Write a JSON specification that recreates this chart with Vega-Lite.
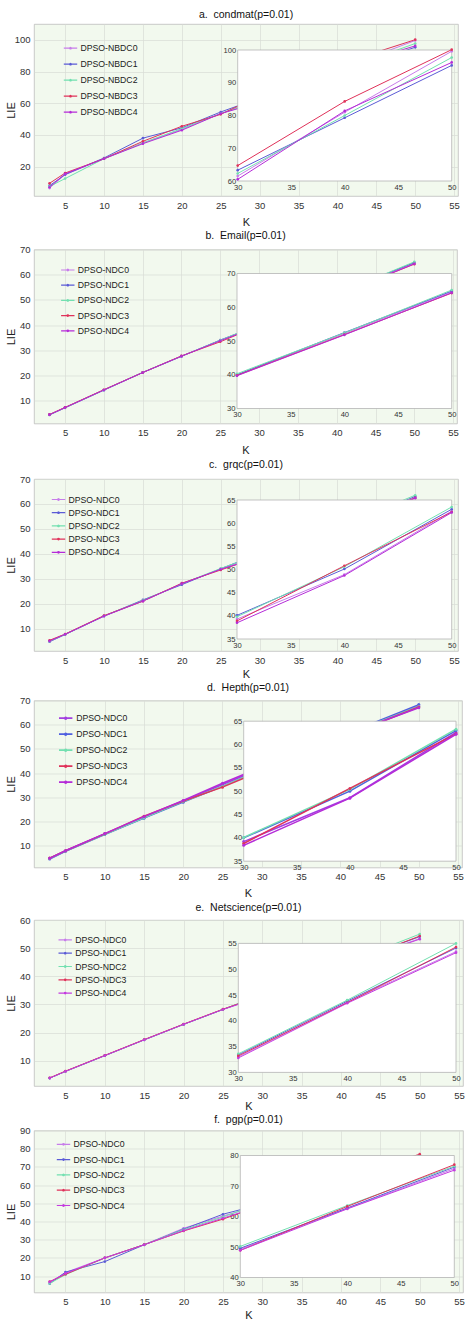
{
"$schema": "https://vega.github.io/schema/vega-lite/v6.json",
"padding": {"left": 4, "top": 9, "right": 2, "bottom": 0},
"spacing": 2.5,
"datasets": {
"aMain": [
{"K":3,"LIE":6.5,"s":"DPSO-NBDC0"},{"K":5,"LIE":15,"s":"DPSO-NBDC0"},{"K":10,"LIE":25,"s":"DPSO-NBDC0"},{"K":15,"LIE":35,"s":"DPSO-NBDC0"},{"K":20,"LIE":43.5,"s":"DPSO-NBDC0"},{"K":25,"LIE":53.5,"s":"DPSO-NBDC0"},{"K":30,"LIE":61.5,"s":"DPSO-NBDC0"},{"K":40,"LIE":81,"s":"DPSO-NBDC0"},{"K":50,"LIE":99.6,"s":"DPSO-NBDC0"},
{"K":3,"LIE":8,"s":"DPSO-NBDC1"},{"K":5,"LIE":15,"s":"DPSO-NBDC1"},{"K":10,"LIE":25.5,"s":"DPSO-NBDC1"},{"K":15,"LIE":38,"s":"DPSO-NBDC1"},{"K":20,"LIE":44.5,"s":"DPSO-NBDC1"},{"K":25,"LIE":54.5,"s":"DPSO-NBDC1"},{"K":30,"LIE":63.3,"s":"DPSO-NBDC1"},{"K":40,"LIE":79.3,"s":"DPSO-NBDC1"},{"K":50,"LIE":95.3,"s":"DPSO-NBDC1"},
{"K":3,"LIE":7.5,"s":"DPSO-NBDC2"},{"K":5,"LIE":12.5,"s":"DPSO-NBDC2"},{"K":10,"LIE":25,"s":"DPSO-NBDC2"},{"K":15,"LIE":35,"s":"DPSO-NBDC2"},{"K":20,"LIE":44,"s":"DPSO-NBDC2"},{"K":25,"LIE":53.5,"s":"DPSO-NBDC2"},{"K":30,"LIE":62.3,"s":"DPSO-NBDC2"},{"K":40,"LIE":80,"s":"DPSO-NBDC2"},{"K":50,"LIE":97.7,"s":"DPSO-NBDC2"},
{"K":3,"LIE":9.5,"s":"DPSO-NBDC3"},{"K":5,"LIE":16,"s":"DPSO-NBDC3"},{"K":10,"LIE":25,"s":"DPSO-NBDC3"},{"K":15,"LIE":36,"s":"DPSO-NBDC3"},{"K":20,"LIE":45.5,"s":"DPSO-NBDC3"},{"K":25,"LIE":53,"s":"DPSO-NBDC3"},{"K":30,"LIE":64.7,"s":"DPSO-NBDC3"},{"K":40,"LIE":84.3,"s":"DPSO-NBDC3"},{"K":50,"LIE":100.1,"s":"DPSO-NBDC3"},
{"K":3,"LIE":7,"s":"DPSO-NBDC4"},{"K":5,"LIE":15.5,"s":"DPSO-NBDC4"},{"K":10,"LIE":25,"s":"DPSO-NBDC4"},{"K":15,"LIE":34.5,"s":"DPSO-NBDC4"},{"K":20,"LIE":43,"s":"DPSO-NBDC4"},{"K":25,"LIE":53.5,"s":"DPSO-NBDC4"},{"K":30,"LIE":60.5,"s":"DPSO-NBDC4"},{"K":40,"LIE":81.4,"s":"DPSO-NBDC4"},{"K":50,"LIE":96.2,"s":"DPSO-NBDC4"}
],
"bMain": [
{"K":3,"LIE":4.5,"s":"DPSO-NDC0"},{"K":5,"LIE":7.3,"s":"DPSO-NDC0"},{"K":10,"LIE":14.3,"s":"DPSO-NDC0"},{"K":15,"LIE":21.2,"s":"DPSO-NDC0"},{"K":20,"LIE":27.7,"s":"DPSO-NDC0"},{"K":25,"LIE":34,"s":"DPSO-NDC0"},{"K":30,"LIE":39.9,"s":"DPSO-NDC0"},{"K":40,"LIE":52.2,"s":"DPSO-NDC0"},{"K":50,"LIE":64.6,"s":"DPSO-NDC0"},
{"K":3,"LIE":4.4,"s":"DPSO-NDC1"},{"K":5,"LIE":7.2,"s":"DPSO-NDC1"},{"K":10,"LIE":14.2,"s":"DPSO-NDC1"},{"K":15,"LIE":21.2,"s":"DPSO-NDC1"},{"K":20,"LIE":27.6,"s":"DPSO-NDC1"},{"K":25,"LIE":34.1,"s":"DPSO-NDC1"},{"K":30,"LIE":40,"s":"DPSO-NDC1"},{"K":40,"LIE":52.5,"s":"DPSO-NDC1"},{"K":50,"LIE":64.8,"s":"DPSO-NDC1"},
{"K":3,"LIE":4.5,"s":"DPSO-NDC2"},{"K":5,"LIE":7.3,"s":"DPSO-NDC2"},{"K":10,"LIE":14.3,"s":"DPSO-NDC2"},{"K":15,"LIE":21.3,"s":"DPSO-NDC2"},{"K":20,"LIE":27.7,"s":"DPSO-NDC2"},{"K":25,"LIE":34,"s":"DPSO-NDC2"},{"K":30,"LIE":40.3,"s":"DPSO-NDC2"},{"K":40,"LIE":52.4,"s":"DPSO-NDC2"},{"K":50,"LIE":65.1,"s":"DPSO-NDC2"},
{"K":3,"LIE":4.6,"s":"DPSO-NDC3"},{"K":5,"LIE":7.4,"s":"DPSO-NDC3"},{"K":10,"LIE":14.4,"s":"DPSO-NDC3"},{"K":15,"LIE":21.2,"s":"DPSO-NDC3"},{"K":20,"LIE":27.8,"s":"DPSO-NDC3"},{"K":25,"LIE":33.4,"s":"DPSO-NDC3"},{"K":30,"LIE":39.8,"s":"DPSO-NDC3"},{"K":40,"LIE":51.9,"s":"DPSO-NDC3"},{"K":50,"LIE":64.2,"s":"DPSO-NDC3"},
{"K":3,"LIE":4.5,"s":"DPSO-NDC4"},{"K":5,"LIE":7.3,"s":"DPSO-NDC4"},{"K":10,"LIE":14.3,"s":"DPSO-NDC4"},{"K":15,"LIE":21.2,"s":"DPSO-NDC4"},{"K":20,"LIE":27.7,"s":"DPSO-NDC4"},{"K":25,"LIE":33.8,"s":"DPSO-NDC4"},{"K":30,"LIE":39.7,"s":"DPSO-NDC4"},{"K":40,"LIE":51.8,"s":"DPSO-NDC4"},{"K":50,"LIE":64.3,"s":"DPSO-NDC4"}
],
"cMain": [
{"K":3,"LIE":5,"s":"DPSO-NDC0"},{"K":5,"LIE":7.7,"s":"DPSO-NDC0"},{"K":10,"LIE":15,"s":"DPSO-NDC0"},{"K":15,"LIE":21.2,"s":"DPSO-NDC0"},{"K":20,"LIE":27.9,"s":"DPSO-NDC0"},{"K":25,"LIE":33.9,"s":"DPSO-NDC0"},{"K":30,"LIE":39.3,"s":"DPSO-NDC0"},{"K":40,"LIE":48.9,"s":"DPSO-NDC0"},{"K":50,"LIE":62.6,"s":"DPSO-NDC0"},
{"K":3,"LIE":4.7,"s":"DPSO-NDC1"},{"K":5,"LIE":7.6,"s":"DPSO-NDC1"},{"K":10,"LIE":15,"s":"DPSO-NDC1"},{"K":15,"LIE":21.5,"s":"DPSO-NDC1"},{"K":20,"LIE":27.6,"s":"DPSO-NDC1"},{"K":25,"LIE":34,"s":"DPSO-NDC1"},{"K":30,"LIE":40.1,"s":"DPSO-NDC1"},{"K":40,"LIE":50.1,"s":"DPSO-NDC1"},{"K":50,"LIE":63,"s":"DPSO-NDC1"},
{"K":3,"LIE":4.9,"s":"DPSO-NDC2"},{"K":5,"LIE":7.7,"s":"DPSO-NDC2"},{"K":10,"LIE":15.1,"s":"DPSO-NDC2"},{"K":15,"LIE":21.2,"s":"DPSO-NDC2"},{"K":20,"LIE":28,"s":"DPSO-NDC2"},{"K":25,"LIE":34.1,"s":"DPSO-NDC2"},{"K":30,"LIE":39.8,"s":"DPSO-NDC2"},{"K":40,"LIE":50.6,"s":"DPSO-NDC2"},{"K":50,"LIE":63.5,"s":"DPSO-NDC2"},
{"K":3,"LIE":5.3,"s":"DPSO-NDC3"},{"K":5,"LIE":7.8,"s":"DPSO-NDC3"},{"K":10,"LIE":15.2,"s":"DPSO-NDC3"},{"K":15,"LIE":21,"s":"DPSO-NDC3"},{"K":20,"LIE":28.2,"s":"DPSO-NDC3"},{"K":25,"LIE":33.5,"s":"DPSO-NDC3"},{"K":30,"LIE":38.9,"s":"DPSO-NDC3"},{"K":40,"LIE":50.8,"s":"DPSO-NDC3"},{"K":50,"LIE":62.4,"s":"DPSO-NDC3"},
{"K":3,"LIE":5,"s":"DPSO-NDC4"},{"K":5,"LIE":7.7,"s":"DPSO-NDC4"},{"K":10,"LIE":15,"s":"DPSO-NDC4"},{"K":15,"LIE":21,"s":"DPSO-NDC4"},{"K":20,"LIE":28,"s":"DPSO-NDC4"},{"K":25,"LIE":33.8,"s":"DPSO-NDC4"},{"K":30,"LIE":38.5,"s":"DPSO-NDC4"},{"K":40,"LIE":48.7,"s":"DPSO-NDC4"},{"K":50,"LIE":62.3,"s":"DPSO-NDC4"}
],
"dMain": [
{"K":3,"LIE":4.8,"s":"DPSO-NDC0"},{"K":5,"LIE":7.8,"s":"DPSO-NDC0"},{"K":10,"LIE":14.8,"s":"DPSO-NDC0"},{"K":15,"LIE":21.5,"s":"DPSO-NDC0"},{"K":20,"LIE":28.5,"s":"DPSO-NDC0"},{"K":25,"LIE":35.3,"s":"DPSO-NDC0"},{"K":30,"LIE":42,"s":"DPSO-NDC0"},{"K":40,"LIE":55,"s":"DPSO-NDC0"},{"K":50,"LIE":67.8,"s":"DPSO-NDC0"},
{"K":3,"LIE":4.5,"s":"DPSO-NDC1"},{"K":5,"LIE":7.7,"s":"DPSO-NDC1"},{"K":10,"LIE":14.6,"s":"DPSO-NDC1"},{"K":15,"LIE":21.4,"s":"DPSO-NDC1"},{"K":20,"LIE":28,"s":"DPSO-NDC1"},{"K":25,"LIE":34.5,"s":"DPSO-NDC1"},{"K":30,"LIE":41.5,"s":"DPSO-NDC1"},{"K":40,"LIE":55.3,"s":"DPSO-NDC1"},{"K":50,"LIE":68.3,"s":"DPSO-NDC1"},
{"K":3,"LIE":4.7,"s":"DPSO-NDC2"},{"K":5,"LIE":7.8,"s":"DPSO-NDC2"},{"K":10,"LIE":14.7,"s":"DPSO-NDC2"},{"K":15,"LIE":21.5,"s":"DPSO-NDC2"},{"K":20,"LIE":28.3,"s":"DPSO-NDC2"},{"K":25,"LIE":34.5,"s":"DPSO-NDC2"},{"K":30,"LIE":41.5,"s":"DPSO-NDC2"},{"K":40,"LIE":55,"s":"DPSO-NDC2"},{"K":50,"LIE":67.5,"s":"DPSO-NDC2"},
{"K":3,"LIE":4.9,"s":"DPSO-NDC3"},{"K":5,"LIE":7.9,"s":"DPSO-NDC3"},{"K":10,"LIE":14.9,"s":"DPSO-NDC3"},{"K":15,"LIE":22.2,"s":"DPSO-NDC3"},{"K":20,"LIE":28.5,"s":"DPSO-NDC3"},{"K":25,"LIE":34.2,"s":"DPSO-NDC3"},{"K":30,"LIE":41,"s":"DPSO-NDC3"},{"K":40,"LIE":54.5,"s":"DPSO-NDC3"},{"K":50,"LIE":67.3,"s":"DPSO-NDC3"},
{"K":3,"LIE":4.8,"s":"DPSO-NDC4"},{"K":5,"LIE":7.9,"s":"DPSO-NDC4"},{"K":10,"LIE":15,"s":"DPSO-NDC4"},{"K":15,"LIE":22,"s":"DPSO-NDC4"},{"K":20,"LIE":28.7,"s":"DPSO-NDC4"},{"K":25,"LIE":35.8,"s":"DPSO-NDC4"},{"K":30,"LIE":42.5,"s":"DPSO-NDC4"},{"K":40,"LIE":55,"s":"DPSO-NDC4"},{"K":50,"LIE":67,"s":"DPSO-NDC4"}
],
"dIn": [
{"K":30,"LIE":39.2,"s":"DPSO-NDC0"},{"K":40,"LIE":48.6,"s":"DPSO-NDC0"},{"K":50,"LIE":62.6,"s":"DPSO-NDC0"},
{"K":30,"LIE":40,"s":"DPSO-NDC1"},{"K":40,"LIE":50,"s":"DPSO-NDC1"},{"K":50,"LIE":63,"s":"DPSO-NDC1"},
{"K":30,"LIE":40.1,"s":"DPSO-NDC2"},{"K":40,"LIE":50.4,"s":"DPSO-NDC2"},{"K":50,"LIE":63.3,"s":"DPSO-NDC2"},
{"K":30,"LIE":38.8,"s":"DPSO-NDC3"},{"K":40,"LIE":50.6,"s":"DPSO-NDC3"},{"K":50,"LIE":62.3,"s":"DPSO-NDC3"},
{"K":30,"LIE":38.4,"s":"DPSO-NDC4"},{"K":40,"LIE":48.5,"s":"DPSO-NDC4"},{"K":50,"LIE":62.2,"s":"DPSO-NDC4"}
],
"eMain": [
{"K":3,"LIE":3.8,"s":"DPSO-NDC0"},{"K":5,"LIE":6.2,"s":"DPSO-NDC0"},{"K":10,"LIE":11.8,"s":"DPSO-NDC0"},{"K":15,"LIE":17.4,"s":"DPSO-NDC0"},{"K":20,"LIE":22.9,"s":"DPSO-NDC0"},{"K":25,"LIE":28.2,"s":"DPSO-NDC0"},{"K":30,"LIE":33,"s":"DPSO-NDC0"},{"K":40,"LIE":43.6,"s":"DPSO-NDC0"},{"K":50,"LIE":53.4,"s":"DPSO-NDC0"},
{"K":3,"LIE":3.8,"s":"DPSO-NDC1"},{"K":5,"LIE":6.2,"s":"DPSO-NDC1"},{"K":10,"LIE":11.8,"s":"DPSO-NDC1"},{"K":15,"LIE":17.4,"s":"DPSO-NDC1"},{"K":20,"LIE":22.9,"s":"DPSO-NDC1"},{"K":25,"LIE":28.2,"s":"DPSO-NDC1"},{"K":30,"LIE":33.4,"s":"DPSO-NDC1"},{"K":40,"LIE":43.8,"s":"DPSO-NDC1"},{"K":50,"LIE":54.1,"s":"DPSO-NDC1"},
{"K":3,"LIE":3.8,"s":"DPSO-NDC2"},{"K":5,"LIE":6.2,"s":"DPSO-NDC2"},{"K":10,"LIE":11.8,"s":"DPSO-NDC2"},{"K":15,"LIE":17.4,"s":"DPSO-NDC2"},{"K":20,"LIE":22.9,"s":"DPSO-NDC2"},{"K":25,"LIE":28.2,"s":"DPSO-NDC2"},{"K":30,"LIE":33.6,"s":"DPSO-NDC2"},{"K":40,"LIE":44,"s":"DPSO-NDC2"},{"K":50,"LIE":55,"s":"DPSO-NDC2"},
{"K":3,"LIE":3.9,"s":"DPSO-NDC3"},{"K":5,"LIE":6.3,"s":"DPSO-NDC3"},{"K":10,"LIE":11.9,"s":"DPSO-NDC3"},{"K":15,"LIE":17.5,"s":"DPSO-NDC3"},{"K":20,"LIE":23,"s":"DPSO-NDC3"},{"K":25,"LIE":28.3,"s":"DPSO-NDC3"},{"K":30,"LIE":33.2,"s":"DPSO-NDC3"},{"K":40,"LIE":43.5,"s":"DPSO-NDC3"},{"K":50,"LIE":54.3,"s":"DPSO-NDC3"},
{"K":3,"LIE":3.8,"s":"DPSO-NDC4"},{"K":5,"LIE":6.2,"s":"DPSO-NDC4"},{"K":10,"LIE":11.8,"s":"DPSO-NDC4"},{"K":15,"LIE":17.4,"s":"DPSO-NDC4"},{"K":20,"LIE":22.9,"s":"DPSO-NDC4"},{"K":25,"LIE":28.2,"s":"DPSO-NDC4"},{"K":30,"LIE":32.8,"s":"DPSO-NDC4"},{"K":40,"LIE":43.4,"s":"DPSO-NDC4"},{"K":50,"LIE":53.2,"s":"DPSO-NDC4"}
],
"fMain": [
{"K":3,"LIE":6.5,"s":"DPSO-NDC0"},{"K":5,"LIE":12,"s":"DPSO-NDC0"},{"K":10,"LIE":20,"s":"DPSO-NDC0"},{"K":15,"LIE":27.3,"s":"DPSO-NDC0"},{"K":20,"LIE":36.3,"s":"DPSO-NDC0"},{"K":25,"LIE":43,"s":"DPSO-NDC0"},{"K":30,"LIE":49.3,"s":"DPSO-NDC0"},{"K":40,"LIE":62.6,"s":"DPSO-NDC0"},{"K":50,"LIE":75.7,"s":"DPSO-NDC0"},
{"K":3,"LIE":5.8,"s":"DPSO-NDC1"},{"K":5,"LIE":12.2,"s":"DPSO-NDC1"},{"K":10,"LIE":18,"s":"DPSO-NDC1"},{"K":15,"LIE":27.2,"s":"DPSO-NDC1"},{"K":20,"LIE":35.8,"s":"DPSO-NDC1"},{"K":25,"LIE":44,"s":"DPSO-NDC1"},{"K":30,"LIE":49.6,"s":"DPSO-NDC1"},{"K":40,"LIE":62.8,"s":"DPSO-NDC1"},{"K":50,"LIE":76.2,"s":"DPSO-NDC1"},
{"K":3,"LIE":6,"s":"DPSO-NDC2"},{"K":5,"LIE":10.8,"s":"DPSO-NDC2"},{"K":10,"LIE":20,"s":"DPSO-NDC2"},{"K":15,"LIE":27.3,"s":"DPSO-NDC2"},{"K":20,"LIE":35.5,"s":"DPSO-NDC2"},{"K":25,"LIE":42.5,"s":"DPSO-NDC2"},{"K":30,"LIE":50.2,"s":"DPSO-NDC2"},{"K":40,"LIE":63.6,"s":"DPSO-NDC2"},{"K":50,"LIE":76.5,"s":"DPSO-NDC2"},
{"K":3,"LIE":7,"s":"DPSO-NDC3"},{"K":5,"LIE":11,"s":"DPSO-NDC3"},{"K":10,"LIE":20,"s":"DPSO-NDC3"},{"K":15,"LIE":27.3,"s":"DPSO-NDC3"},{"K":20,"LIE":34.8,"s":"DPSO-NDC3"},{"K":25,"LIE":41.3,"s":"DPSO-NDC3"},{"K":30,"LIE":48.9,"s":"DPSO-NDC3"},{"K":40,"LIE":63.3,"s":"DPSO-NDC3"},{"K":50,"LIE":77,"s":"DPSO-NDC3"},
{"K":3,"LIE":6.8,"s":"DPSO-NDC4"},{"K":5,"LIE":11.5,"s":"DPSO-NDC4"},{"K":10,"LIE":20,"s":"DPSO-NDC4"},{"K":15,"LIE":27.2,"s":"DPSO-NDC4"},{"K":20,"LIE":35,"s":"DPSO-NDC4"},{"K":25,"LIE":41.8,"s":"DPSO-NDC4"},{"K":30,"LIE":48.9,"s":"DPSO-NDC4"},{"K":40,"LIE":62.5,"s":"DPSO-NDC4"},{"K":50,"LIE":75.2,"s":"DPSO-NDC4"}
]
},
"vconcat": [
{
"width": 424, "height": 172,
"title": {"text": "a.\u00a0 condmat(p=0.01)", "offset": 4, "frame": "group"},
"layer": [
{"data": {"name": "aMain"},
"encoding": {
"x": {"field": "K", "type": "quantitative", "scale": {"domain": [1, 55.5], "nice": false, "zero": false}, "axis": {"orient": "bottom", "values": [5,10,15,20,25,30,35,40,45,50,55], "title": "K", "titleY": 20}},
"y": {"field": "LIE", "type": "quantitative", "scale": {"domain": [1.5, 110], "nice": false, "zero": false}, "axis": {"values": [20,40,60,80,100], "title": "LIE", "titleX": -18}},
"color": {"field": "s", "type": "nominal", "scale": {"domain": ["DPSO-NBDC0","DPSO-NBDC1","DPSO-NBDC2","DPSO-NBDC3","DPSO-NBDC4"], "range": ["#c77dea","#5b5bd6","#72e0b0","#e0325a","#b52bd8"]}, "legend": {"title": null, "orient": "none", "legendX": 29, "legendY": 16.7, "rowPadding": 3}}
},
"layer": [
{"mark": {"type": "line"}, "encoding": {"strokeWidth": {"field": "s", "type": "ordinal", "scale": {"range": [1,1,1,1,1.5]}, "legend": null}}},
{"mark": {"type": "point", "filled": true, "opacity": 1}, "encoding": {"size": {"field": "s", "type": "ordinal", "scale": {"range": [7,7,7,16,9]}, "legend": null}}}
]},
{"layer": [
{"data": {"values": [{}]}, "mark": {"type": "rect", "fill": "white", "stroke": "#b4b4b4", "strokeWidth": 0.8},
"encoding": {
"x": {"datum": 30, "type": "quantitative", "scale": {"domain": [30, 50], "range": [203.7, 417.7], "nice": false, "zero": false}, "axis": {"orient": "bottom", "offset": -15, "values": [30,35,40,45,50], "grid": false, "labelFontSize": 7.6, "labelPadding": 2, "labelOverlap": false, "title": null}},
"x2": {"datum": 50},
"y": {"datum": 60, "type": "quantitative", "scale": {"domain": [60, 100], "range": [157, 26], "nice": false, "zero": false}, "axis": {"orient": "left", "offset": -203.7, "values": [60,70,80,90,100], "grid": false, "labelFontSize": 7.6, "labelPadding": 2, "labelOverlap": false, "title": null}},
"y2": {"datum": 100}}},
{"data": {"name": "aMain"}, "transform": [{"filter": "datum.K >= 30"}],
"encoding": {
"x": {"field": "K", "type": "quantitative", "axis": {"orient": "bottom", "offset": -15, "values": [30,35,40,45,50], "grid": false, "labelFontSize": 7.6, "labelPadding": 2, "labelOverlap": false, "title": null}},
"y": {"field": "LIE", "type": "quantitative", "axis": {"orient": "left", "offset": -203.7, "values": [60,70,80,90,100], "grid": false, "labelFontSize": 7.6, "labelPadding": 2, "labelOverlap": false, "title": null}},
"color": {"field": "s", "type": "nominal"}
},
"layer": [
{"mark": {"type": "line"}, "encoding": {"strokeWidth": {"field": "s", "type": "ordinal", "scale": {"range": [1,1,1,1,1.5]}, "legend": null}}},
{"mark": {"type": "point", "filled": true, "opacity": 1}, "encoding": {"size": {"field": "s", "type": "ordinal", "scale": {"range": [7,7,7,16,9]}, "legend": null}}}
]}
]}
],
"resolve": {"scale": {"x": "independent", "y": "independent"}}
},
{
"width": 423, "height": 174,
"title": {"text": "b.\u00a0 Email(p=0.01)", "offset": 3, "frame": "group"},
"layer": [
{"data": {"name": "bMain"},
"encoding": {
"x": {"field": "K", "type": "quantitative", "scale": {"domain": [1, 55.5], "nice": false, "zero": false}, "axis": {"orient": "bottom", "values": [5,10,15,20,25,30,35,40,45,50,55], "title": "K", "titleY": 21}},
"y": {"field": "LIE", "type": "quantitative", "scale": {"domain": [1, 70], "nice": false, "zero": false}, "axis": {"values": [10,20,30,40,50,60,70], "title": "LIE", "titleX": -18}},
"color": {"field": "s", "type": "nominal", "scale": {"domain": ["DPSO-NDC0","DPSO-NDC1","DPSO-NDC2","DPSO-NDC3","DPSO-NDC4"], "range": ["#c77dea","#5b5bd6","#72e0b0","#e0325a","#b52bd8"]}, "legend": {"title": null, "orient": "none", "legendX": 26.3, "legendY": 13, "rowPadding": 2.2}}
},
"layer": [
{"mark": {"type": "line"}, "encoding": {"strokeWidth": {"field": "s", "type": "ordinal", "scale": {"range": [1,1,1,1,1.5]}, "legend": null}}},
{"mark": {"type": "point", "filled": true, "opacity": 1}, "encoding": {"size": {"field": "s", "type": "ordinal", "scale": {"range": [7,7,7,16,9]}, "legend": null}}}
]},
{"layer": [
{"data": {"values": [{}]}, "mark": {"type": "rect", "fill": "white", "stroke": "#b4b4b4", "strokeWidth": 0.8},
"encoding": {
"x": {"datum": 30, "type": "quantitative", "scale": {"domain": [30, 50], "range": [203, 417.7], "nice": false, "zero": false}, "axis": {"orient": "bottom", "offset": -15, "values": [30,35,40,45,50], "grid": false, "labelFontSize": 7.6, "labelPadding": 2, "labelOverlap": false, "title": null}},
"x2": {"datum": 50},
"y": {"datum": 30, "type": "quantitative", "scale": {"domain": [30, 70], "range": [159, 24], "nice": false, "zero": false}, "axis": {"orient": "left", "offset": -203, "values": [30,40,50,60,70], "grid": false, "labelFontSize": 7.6, "labelPadding": 2, "labelOverlap": false, "title": null}},
"y2": {"datum": 70}}},
{"data": {"name": "bMain"}, "transform": [{"filter": "datum.K >= 30"}],
"encoding": {
"x": {"field": "K", "type": "quantitative", "axis": {"orient": "bottom", "offset": -15, "values": [30,35,40,45,50], "grid": false, "labelFontSize": 7.6, "labelPadding": 2, "labelOverlap": false, "title": null}},
"y": {"field": "LIE", "type": "quantitative", "axis": {"orient": "left", "offset": -203, "values": [30,40,50,60,70], "grid": false, "labelFontSize": 7.6, "labelPadding": 2, "labelOverlap": false, "title": null}},
"color": {"field": "s", "type": "nominal"}
},
"layer": [
{"mark": {"type": "line"}, "encoding": {"strokeWidth": {"field": "s", "type": "ordinal", "scale": {"range": [1,1,1,1,1.5]}, "legend": null}}},
{"mark": {"type": "point", "filled": true, "opacity": 1}, "encoding": {"size": {"field": "s", "type": "ordinal", "scale": {"range": [7,7,7,16,9]}, "legend": null}}}
]}
]}
],
"resolve": {"scale": {"x": "independent", "y": "independent"}}
},
{
"width": 424, "height": 172,
"title": {"text": "c.\u00a0 grqc(p=0.01)", "offset": 3.5, "frame": "group"},
"layer": [
{"data": {"name": "cMain"},
"encoding": {
"x": {"field": "K", "type": "quantitative", "scale": {"domain": [1, 55.5], "nice": false, "zero": false}, "axis": {"orient": "bottom", "values": [5,10,15,20,25,30,35,40,45,50,55], "title": "K", "titleY": 17}},
"y": {"field": "LIE", "type": "quantitative", "scale": {"domain": [1, 70], "nice": false, "zero": false}, "axis": {"values": [10,20,30,40,50,60,70], "title": "LIE", "titleX": -18}},
"color": {"field": "s", "type": "nominal", "scale": {"domain": ["DPSO-NDC0","DPSO-NDC1","DPSO-NDC2","DPSO-NDC3","DPSO-NDC4"], "range": ["#c77dea","#5b5bd6","#72e0b0","#e0325a","#b52bd8"]}, "legend": {"title": null, "orient": "none", "legendX": 17, "legendY": 13, "rowPadding": 0.2}}
},
"layer": [
{"mark": {"type": "line"}, "encoding": {"strokeWidth": {"field": "s", "type": "ordinal", "scale": {"range": [1,1,1,1,1.6]}, "legend": null}}},
{"mark": {"type": "point", "filled": true, "opacity": 1}, "encoding": {"size": {"field": "s", "type": "ordinal", "scale": {"range": [7,7,7,16,9]}, "legend": null}}}
]},
{"layer": [
{"data": {"values": [{}]}, "mark": {"type": "rect", "fill": "white", "stroke": "#b4b4b4", "strokeWidth": 0.8},
"encoding": {
"x": {"datum": 30, "type": "quantitative", "scale": {"domain": [30, 50], "range": [203, 417.7], "nice": false, "zero": false}, "axis": {"orient": "bottom", "offset": -12, "values": [30,35,40,45,50], "grid": false, "labelFontSize": 7.6, "labelPadding": 2, "labelOverlap": false, "title": null}},
"x2": {"datum": 50},
"y": {"datum": 35, "type": "quantitative", "scale": {"domain": [35, 65], "range": [160, 21], "nice": false, "zero": false}, "axis": {"orient": "left", "offset": -203, "values": [35,40,45,50,55,60,65], "grid": false, "labelFontSize": 7.6, "labelPadding": 2, "labelOverlap": false, "title": null}},
"y2": {"datum": 65}}},
{"data": {"name": "cMain"}, "transform": [{"filter": "datum.K >= 30"}],
"encoding": {
"x": {"field": "K", "type": "quantitative", "axis": {"orient": "bottom", "offset": -12, "values": [30,35,40,45,50], "grid": false, "labelFontSize": 7.6, "labelPadding": 2, "labelOverlap": false, "title": null}},
"y": {"field": "LIE", "type": "quantitative", "axis": {"orient": "left", "offset": -203, "values": [35,40,45,50,55,60,65], "grid": false, "labelFontSize": 7.6, "labelPadding": 2, "labelOverlap": false, "title": null}},
"color": {"field": "s", "type": "nominal"}
},
"layer": [
{"mark": {"type": "line"}, "encoding": {"strokeWidth": {"field": "s", "type": "ordinal", "scale": {"range": [1,1,1,1,1.6]}, "legend": null}}},
{"mark": {"type": "point", "filled": true, "opacity": 1}, "encoding": {"size": {"field": "s", "type": "ordinal", "scale": {"range": [7,7,7,16,9]}, "legend": null}}}
]}
]}
],
"resolve": {"scale": {"x": "independent", "y": "independent"}}
},
{
"width": 428, "height": 167,
"title": {"text": "d.\u00a0 Hepth(p=0.01)", "offset": 2, "frame": "group"},
"layer": [
{"data": {"name": "dMain"},
"encoding": {
"x": {"field": "K", "type": "quantitative", "scale": {"domain": [1, 55.5], "nice": false, "zero": false}, "axis": {"orient": "bottom", "values": [5,10,15,20,25,30,35,40,45,50,55], "title": "K", "titleY": 20}},
"y": {"field": "LIE", "type": "quantitative", "scale": {"domain": [1, 70], "nice": false, "zero": false}, "axis": {"values": [10,20,30,40,50,60,70], "title": "LIE", "titleX": -18}},
"color": {"field": "s", "type": "nominal", "scale": {"domain": ["DPSO-NDC0","DPSO-NDC1","DPSO-NDC2","DPSO-NDC3","DPSO-NDC4"], "range": ["#a23ee0","#4f5fe0","#72e0b0","#e0325a","#b52bd8"]}, "legend": {"title": null, "orient": "none", "legendX": 23.7, "legendY": 9.7, "rowPadding": 3, "symbolStrokeWidth": 1.8}}
},
"layer": [
{"mark": {"type": "line"}, "encoding": {"strokeWidth": {"field": "s", "type": "ordinal", "scale": {"range": [1.5,1.5,1.2,1.2,1.8]}, "legend": null}}},
{"mark": {"type": "point", "filled": true, "opacity": 1}, "encoding": {"size": {"field": "s", "type": "ordinal", "scale": {"range": [9,9,7,16,12]}, "legend": null}}}
]},
{"layer": [
{"data": {"values": [{}]}, "mark": {"type": "rect", "fill": "white", "stroke": "#b4b4b4", "strokeWidth": 0.8},
"encoding": {
"x": {"datum": 30, "type": "quantitative", "scale": {"domain": [30, 50], "range": [209.7, 422], "nice": false, "zero": false}, "axis": {"orient": "bottom", "offset": -6.3, "values": [30,35,40,45,50], "grid": false, "labelFontSize": 7.6, "labelPadding": 2, "labelOverlap": false, "title": null}},
"x2": {"datum": 50},
"y": {"datum": 35, "type": "quantitative", "scale": {"domain": [35, 65], "range": [160.7, 20.7], "nice": false, "zero": false}, "axis": {"orient": "left", "offset": -209.7, "values": [35,40,45,50,55,60,65], "grid": false, "labelFontSize": 7.6, "labelPadding": 2, "labelOverlap": false, "title": null}},
"y2": {"datum": 65}}},
{"data": {"name": "dIn"},
"encoding": {
"x": {"field": "K", "type": "quantitative", "axis": {"orient": "bottom", "offset": -6.3, "values": [30,35,40,45,50], "grid": false, "labelFontSize": 7.6, "labelPadding": 2, "labelOverlap": false, "title": null}},
"y": {"field": "LIE", "type": "quantitative", "axis": {"orient": "left", "offset": -209.7, "values": [35,40,45,50,55,60,65], "grid": false, "labelFontSize": 7.6, "labelPadding": 2, "labelOverlap": false, "title": null}},
"color": {"field": "s", "type": "nominal"}
},
"layer": [
{"mark": {"type": "line"}, "encoding": {"strokeWidth": {"field": "s", "type": "ordinal", "scale": {"range": [1.5,1.5,1.2,1.2,1.8]}, "legend": null}}},
{"mark": {"type": "point", "filled": true, "opacity": 1}, "encoding": {"size": {"field": "s", "type": "ordinal", "scale": {"range": [9,9,7,16,12]}, "legend": null}}}
]}
]}
],
"resolve": {"scale": {"x": "independent", "y": "independent"}}
},
{
"width": 429, "height": 166,
"title": {"text": "e.\u00a0 Netscience(p=0.01)", "offset": 2, "frame": "group"},
"layer": [
{"data": {"name": "eMain"},
"encoding": {
"x": {"field": "K", "type": "quantitative", "scale": {"domain": [1, 55.5], "nice": false, "zero": false}, "axis": {"orient": "bottom", "values": [5,10,15,20,25,30,35,40,45,50,55], "title": "K", "titleY": 14}},
"y": {"field": "LIE", "type": "quantitative", "scale": {"domain": [1, 60], "nice": false, "zero": false}, "axis": {"values": [10,20,30,40,50,60], "title": "LIE", "titleX": -18}},
"color": {"field": "s", "type": "nominal", "scale": {"domain": ["DPSO-NDC0","DPSO-NDC1","DPSO-NDC2","DPSO-NDC3","DPSO-NDC4"], "range": ["#c77dea","#5b5bd6","#72e0b0","#e0325a","#c43ae0"]}, "legend": {"title": null, "orient": "none", "legendX": 23.7, "legendY": 12.4, "rowPadding": 0.3}}
},
"layer": [
{"mark": {"type": "line"}, "encoding": {"strokeWidth": {"field": "s", "type": "ordinal", "scale": {"range": [1,1,1,1,1.6]}, "legend": null}}},
{"mark": {"type": "point", "filled": true, "opacity": 1}, "encoding": {"size": {"field": "s", "type": "ordinal", "scale": {"range": [7,7,7,16,9]}, "legend": null}}}
]},
{"layer": [
{"data": {"values": [{}]}, "mark": {"type": "rect", "fill": "white", "stroke": "#b4b4b4", "strokeWidth": 0.8},
"encoding": {
"x": {"datum": 30, "type": "quantitative", "scale": {"domain": [30, 50], "range": [204.3, 422], "nice": false, "zero": false}, "axis": {"orient": "bottom", "offset": -13.6, "values": [30,35,40,45,50], "grid": false, "labelFontSize": 7.6, "labelPadding": 2, "labelOverlap": false, "title": null}},
"x2": {"datum": 50},
"y": {"datum": 30, "type": "quantitative", "scale": {"domain": [30, 55], "range": [152.4, 23.4], "nice": false, "zero": false}, "axis": {"orient": "left", "offset": -204.3, "values": [30,35,40,45,50,55], "grid": false, "labelFontSize": 7.6, "labelPadding": 2, "labelOverlap": false, "title": null}},
"y2": {"datum": 55}}},
{"data": {"name": "eMain"}, "transform": [{"filter": "datum.K >= 30"}],
"encoding": {
"x": {"field": "K", "type": "quantitative", "axis": {"orient": "bottom", "offset": -13.6, "values": [30,35,40,45,50], "grid": false, "labelFontSize": 7.6, "labelPadding": 2, "labelOverlap": false, "title": null}},
"y": {"field": "LIE", "type": "quantitative", "axis": {"orient": "left", "offset": -204.3, "values": [30,35,40,45,50,55], "grid": false, "labelFontSize": 7.6, "labelPadding": 2, "labelOverlap": false, "title": null}},
"color": {"field": "s", "type": "nominal"}
},
"layer": [
{"mark": {"type": "line"}, "encoding": {"strokeWidth": {"field": "s", "type": "ordinal", "scale": {"range": [1,1,1,1,1.6]}, "legend": null}}},
{"mark": {"type": "point", "filled": true, "opacity": 1}, "encoding": {"size": {"field": "s", "type": "ordinal", "scale": {"range": [7,7,7,16,9]}, "legend": null}}}
]}
]}
],
"resolve": {"scale": {"x": "independent", "y": "independent"}}
},
{
"width": 429, "height": 162,
"title": {"text": "f.\u00a0 pgp(p=0.01)", "offset": 0, "frame": "group"},
"layer": [
{"data": {"name": "fMain"},
"encoding": {
"x": {"field": "K", "type": "quantitative", "scale": {"domain": [1, 55.5], "nice": false, "zero": false}, "axis": {"orient": "bottom", "values": [5,10,15,20,25,30,35,40,45,50,55], "title": "K", "titleY": 17}},
"y": {"field": "LIE", "type": "quantitative", "scale": {"domain": [1, 90], "nice": false, "zero": false}, "axis": {"values": [10,20,30,40,50,60,70,80,90], "title": "LIE", "titleX": -18}},
"color": {"field": "s", "type": "nominal", "scale": {"domain": ["DPSO-NDC0","DPSO-NDC1","DPSO-NDC2","DPSO-NDC3","DPSO-NDC4"], "range": ["#c77dea","#5b5bd6","#72e0b0","#e0325a","#c43ae0"]}, "legend": {"title": null, "orient": "none", "legendX": 22, "legendY": 6.3, "rowPadding": 2.3}}
},
"layer": [
{"mark": {"type": "line"}, "encoding": {"strokeWidth": {"field": "s", "type": "ordinal", "scale": {"range": [1,1,1,1,1.6]}, "legend": null}}},
{"mark": {"type": "point", "filled": true, "opacity": 1}, "encoding": {"size": {"field": "s", "type": "ordinal", "scale": {"range": [7,7,7,16,9]}, "legend": null}}}
]},
{"layer": [
{"data": {"values": [{}]}, "mark": {"type": "rect", "fill": "white", "stroke": "#b4b4b4", "strokeWidth": 0.8},
"encoding": {
"x": {"datum": 30, "type": "quantitative", "scale": {"domain": [30, 50], "range": [206.3, 420.3], "nice": false, "zero": false}, "axis": {"orient": "bottom", "offset": -15, "values": [30,35,40,45,50], "grid": false, "labelFontSize": 7.6, "labelPadding": 2, "labelOverlap": false, "title": null}},
"x2": {"datum": 50},
"y": {"datum": 40, "type": "quantitative", "scale": {"domain": [40, 80], "range": [147, 25], "nice": false, "zero": false}, "axis": {"orient": "left", "offset": -206.3, "values": [40,50,60,70,80], "grid": false, "labelFontSize": 7.6, "labelPadding": 2, "labelOverlap": false, "title": null}},
"y2": {"datum": 80}}},
{"data": {"name": "fMain"}, "transform": [{"filter": "datum.K >= 30"}],
"encoding": {
"x": {"field": "K", "type": "quantitative", "axis": {"orient": "bottom", "offset": -15, "values": [30,35,40,45,50], "grid": false, "labelFontSize": 7.6, "labelPadding": 2, "labelOverlap": false, "title": null}},
"y": {"field": "LIE", "type": "quantitative", "axis": {"orient": "left", "offset": -206.3, "values": [40,50,60,70,80], "grid": false, "labelFontSize": 7.6, "labelPadding": 2, "labelOverlap": false, "title": null}},
"color": {"field": "s", "type": "nominal"}
},
"layer": [
{"mark": {"type": "line"}, "encoding": {"strokeWidth": {"field": "s", "type": "ordinal", "scale": {"range": [1,1,1,1,1.6]}, "legend": null}}},
{"mark": {"type": "point", "filled": true, "opacity": 1}, "encoding": {"size": {"field": "s", "type": "ordinal", "scale": {"range": [7,7,7,16,9]}, "legend": null}}}
]}
]}
],
"resolve": {"scale": {"x": "independent", "y": "independent"}}
}
],
"resolve": {"scale": {"color": "independent", "size": "independent", "strokeWidth": "independent"}, "legend": {"color": "independent", "size": "independent", "strokeWidth": "independent"}},
"config": {
"font": "Liberation Sans",
"view": {"fill": "#f2f9ee", "stroke": "#bcbcbc", "strokeWidth": 0.8},
"axis": {"grid": true, "gridColor": "#d9ddd6", "gridWidth": 0.7, "domain": false, "ticks": false, "tickSize": 0, "labelFont": "Liberation Sans", "labelFontSize": 9.5, "labelColor": "#333333", "labelPadding": 4, "labelFlush": false, "labelOverlap": false, "titleFont": "Liberation Sans", "titleFontSize": 11, "titleFontWeight": "normal", "titleColor": "#222222"},
"title": {"font": "Liberation Sans", "fontSize": 10.5, "fontWeight": "normal", "color": "#111111"},
"legend": {"symbolType": "M-1,0H1M-0.12,0A0.12,0.12,0,1,1,0.12,0A0.12,0.12,0,1,1,-0.12,0", "symbolSize": 180, "symbolStrokeWidth": 1.2, "labelFont": "Liberation Sans", "labelFontSize": 8.7, "labelColor": "#1a1a1a", "labelOffset": 2.5, "padding": 0}
}
}
